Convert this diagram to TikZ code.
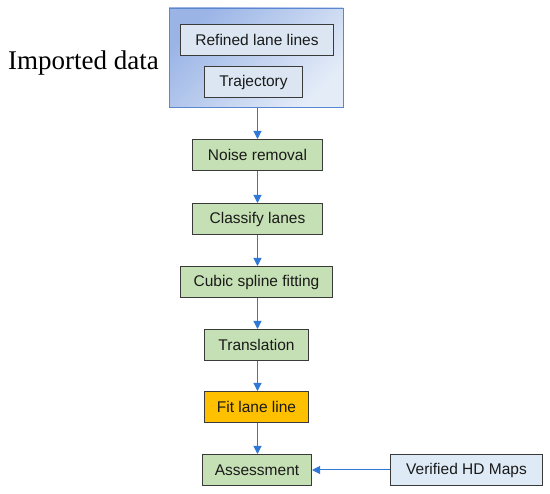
\documentclass[tikz,border=0pt]{standalone}
\usepackage{fontspec}
\setmainfont{Liberation Sans}
\newfontfamily\serifimp{Liberation Serif}
\usetikzlibrary{arrows.meta}
\definecolor{outerA}{HTML}{9AB4E6}
\definecolor{outerB}{HTML}{E4ECF8}
\definecolor{outerline}{HTML}{5B87D0}
\definecolor{inblue}{HTML}{DCE6F2}
\definecolor{vblue}{HTML}{DEEBF7}
\definecolor{greenbox}{HTML}{C5E0B4}
\definecolor{orangebox}{HTML}{FFC000}
\definecolor{boxline}{HTML}{3A3A3A}
\definecolor{arrowblue}{HTML}{2E78D6}
\definecolor{txt}{HTML}{1A1A1A}
\tikzset{
  x=1pt, y=-1pt,
  stepbox/.style={draw=boxline, line width=1pt, text=txt, font=\fontsize{15.5}{18}\selectfont, inner sep=0pt, anchor=north west},
  flow/.style={draw=arrowblue, line width=1pt, -{Triangle[length=8pt,width=8pt]}},
}
\begin{document}
\begin{tikzpicture}
\useasboundingbox (0,0) rectangle (550,494);
% outer gradient box (drawn in an unflipped frame so the angle is unambiguous)
\begin{scope}[y=1pt]
\shade[top color=outerA, bottom color=outerB, shading angle=45] (169,-8) rectangle (343,-107);
\end{scope}
\node[draw=outerline, line width=1pt, minimum width=174pt, minimum height=99pt, anchor=north west, inner sep=0pt] (imp) at (169,8) {};
\node[stepbox, fill=inblue, minimum width=153pt, minimum height=31pt] (ref) at (180,24) {Refined lane lines};
\node[stepbox, fill=inblue, minimum width=98pt, minimum height=31pt] (traj) at (204,66) {Trajectory};
\node[font=\serifimp\fontsize{27}{30}\selectfont, anchor=base, text=black] (lbl) at (83.5,70) {Imported data};
% flow boxes
\node[stepbox, fill=greenbox, minimum width=130pt, minimum height=31pt] (noise) at (192,139) {Noise removal};
\node[stepbox, fill=greenbox, minimum width=130pt, minimum height=31pt] (class) at (192,203) {Classify lanes};
\node[stepbox, fill=greenbox, minimum width=152pt, minimum height=31pt] (cubic) at (180,266) {Cubic spline fitting};
\node[stepbox, fill=greenbox, minimum width=104pt, minimum height=31pt] (trans) at (204,329) {Translation};
\node[stepbox, fill=orangebox, minimum width=104pt, minimum height=31pt] (fit) at (204,391) {Fit lane line};
\node[stepbox, fill=greenbox, minimum width=109pt, minimum height=31pt] (assess) at (202,454) {Assessment};
\node[stepbox, fill=vblue, minimum width=152pt, minimum height=31pt] (hd) at (390,454) {Verified HD Maps};
% arrows
\draw[flow] (imp.south -| noise.north) -- (noise.north);
\draw[flow] (noise.south) -- (class.north);
\draw[flow] (class.south) -- (class.south |- cubic.north);
\draw[flow] (class.south |- cubic.south) -- (class.south |- trans.north);
\draw[flow] (class.south |- trans.south) -- (class.south |- fit.north);
\draw[flow] (class.south |- fit.south) -- (class.south |- assess.north);
\draw[flow] (hd.west) -- (assess.east);
\end{tikzpicture}
\end{document}
